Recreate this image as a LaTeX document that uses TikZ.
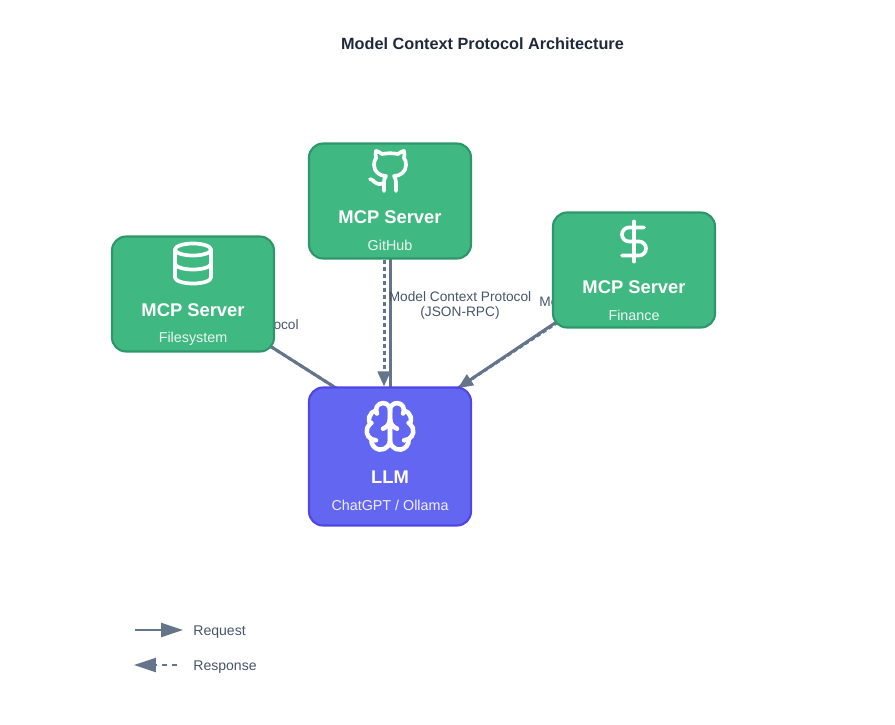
\documentclass[tikz,border=0pt]{standalone}
\usepackage{fontspec}
\setmainfont{Liberation Sans}
\usepackage{xcolor}
\usetikzlibrary{positioning, arrows.meta, backgrounds}
\definecolor{servergreen}{RGB}{63,185,129}
\definecolor{serveredge}{RGB}{47,150,107}
\definecolor{llmblue}{RGB}{99,102,241}
\definecolor{llmedge}{RGB}{79,70,229}
\definecolor{slateline}{RGB}{100,116,139}
\definecolor{slatetext}{RGB}{71,85,105}
\definecolor{titletext}{RGB}{30,41,59}

% one half of the brain icon
\newcommand{\brainlobe}{
    \draw (12,5) arc[start angle=0, end angle=-182.4, radius=3]
        arc[start angle=-104.4, end angle=-208.3, radius=4]
        arc[start angle=-129.1, end angle=-240.5, radius=4]
        arc[start angle=187.4, end angle=0, radius=4] -- cycle;
    \draw (12,9) arc[start angle=3.1, end angle=70.6, radius=4.5];
    \draw (6.003,5.125) arc[start angle=177.6, end angle=150, radius=3];
    \draw (3.477,10.896) arc[start angle=-129.1, end angle=-119, radius=4];
    \draw (6,18) arc[start angle=90, end angle=119.5, radius=4];
}

\begin{document}
\begin{tikzpicture}[
    x=0.02cm, y=-0.02cm,
    font=\fontsize{7.8}{9}\selectfont,
    server/.style={
        rectangle,
        draw=serveredge,
        fill=servergreen,
        rounded corners=0.28cm,
        line width=1.2pt,
        minimum width=3.24cm,
        minimum height=2.3cm
    },
    llmbox/.style={server, draw=llmedge, fill=llmblue, minimum height=2.76cm},
    head/.style={text=white, font=\fontsize{10.45}{12}\bfseries\selectfont},
    sub/.style={text=white, opacity=0.9, font=\fontsize{8.15}{9}\selectfont},
    req/.style={-{Triangle[length=0.3cm, width=0.25cm]}, draw=slateline, line width=1.7pt},
    res/.style={req, dash pattern=on 2.4pt off 1.6pt},
    edgelabel/.style={text=slatetext, align=center},
    icon/.style={white, line width=2.1pt, line cap=round, line join=round},
    legendline/.style={draw=slateline, line width=1.4pt},
    legendtext/.style={anchor=west, inner sep=0pt, text=slatetext, font=\fontsize{8}{9}\selectfont}
]

\useasboundingbox (0, 0) rectangle (895, 724);

\def\xfs{193}
\def\xgh{390}
\def\xfin{634}

\node[font=\fontsize{9.25}{11}\bfseries\selectfont, text=titletext] (title) at (482.5, 44) {Model Context Protocol Architecture};

% Boxes
\node[server] (fs)  at (\xfs, 294) {};
\node[server] (gh)  at (\xgh, 201) {};
\node[server] (fin) at (\xfin, 270) {};
\node[llmbox] (llm) at (\xgh, 456.5) {};

% Box texts
\node[head] (fshead)  at (\xfs, 310.5) {MCP Server};
\node[sub]  (fssub)   at (\xfs, 338.5) {Filesystem};
\node[head] (ghhead)  at (\xgh, 217.5) {MCP Server};
\node[sub]  (ghsub)   at (\xgh, 245.5) {GitHub};
\node[head] (finhead) at (\xfin, 287.5) {MCP Server};
\node[sub]  (finsub)  at (\xfin, 315.5) {Finance};
\node[head] (llmhead) at (\xgh, 477.5) {LLM};
\node[sub]  (llmsub)  at (\xgh, 505.5) {ChatGPT / Ollama};

% Icons
\begin{scope}[shift={(169, 239.5)}, scale=2, icon]
    \draw (12,5) ellipse [x radius=9, y radius=3];
    \draw (3,5) -- (3,19) arc[start angle=180, end angle=0, x radius=9, y radius=3] -- (21,5);
    \draw (3,12) arc[start angle=180, end angle=0, x radius=9, y radius=3];
\end{scope}
\begin{scope}[shift={(366, 147)}, scale=2, icon]
    \draw (15,22) -- (15,18) .. controls (15,16.8) and (14.7,15.5) .. (14,14.5)
        .. controls (17,14.5) and (20,12.5) .. (20,9)
        .. controls (20.08,7.75) and (19.73,6.52) .. (19,5.5)
        .. controls (19.28,4.35) and (19.28,3.15) .. (19,2)
        .. controls (19,2) and (18,2) .. (16,3.5)
        .. controls (13.36,3) and (10.64,3) .. (8,3.5)
        .. controls (6,2) and (5,2) .. (5,2)
        .. controls (4.7,3.15) and (4.7,4.35) .. (5,5.5)
        .. controls (4.35,6.45) and (4,7.7) .. (4,9)
        .. controls (4,12.5) and (7,14.5) .. (10,14.5)
        .. controls (9.61,14.99) and (9.32,15.55) .. (9.15,16.15)
        .. controls (8.98,16.75) and (8.93,17.38) .. (9,18) -- (9,22);
    \draw (9,18) .. controls (4.49,20) and (4,16) .. (2,16);
\end{scope}
\begin{scope}[shift={(610, 217.5)}, scale=2, icon]
    \draw (12,2) -- (12,22);
    \draw (17,5) -- (9.5,5) arc[start angle=-90, end angle=-270, radius=3.5]
        -- (14.5,12) arc[start angle=-90, end angle=90, radius=3.5] -- (6,19);
\end{scope}
\begin{scope}[shift={(362, 398.4)}, scale=2.33, icon, line width=2.6pt]
    \brainlobe
\end{scope}
\begin{scope}[shift={(418, 398.4)}, xscale=-2.33, yscale=2.33, icon, line width=2.6pt]
    \brainlobe
\end{scope}

% Connectors and their labels, under the boxes
\begin{scope}[on background layer]
    \coordinate (fsstart) at (\xfs, 297);
    \coordinate (fsend) at (405, 432);
    \coordinate (finend) at (458, 388);
    \draw[req] (llm.center) -- (gh.center);
    \draw[res] ([xshift=-0.12cm]gh.south) -- ([xshift=-0.12cm]llm.north);
    \draw[req] (finend) -- (fin.center);
    \draw[res] ([yshift=-0.04cm]fin.center) -- (finend);
    \draw[res] (fsstart) -- (fsend);
    \draw[req] (fsend) -- (fsstart);
    \node[edgelabel, anchor=east, inner sep=0pt] (fslabel) at (299, 325) {ocol};
    \node[edgelabel] (ghlabel) at (460, 305.5) {Model Context Protocol\\(JSON-RPC)};
    \node[edgelabel, anchor=west, inner sep=0pt] (finlabel) at (539, 302) {Mo};
\end{scope}

% Legend
\coordinate (reqa) at (135, 630);
\coordinate (reqb) at (183, 630);
\coordinate (resa) at (177, 665);
\coordinate (resb) at (134, 665);
\draw[legendline, -{Triangle[length=0.44cm, width=0.28cm]}] (reqa) -- (reqb);
\draw[legendline, dash pattern=on 2.8pt off 2.8pt, -{Triangle[length=0.44cm, width=0.28cm]}] (resa) -- (resb);
\node[legendtext] (reqlabel) at (193, 632.5) {Request};
\node[legendtext] (reslabel) at (193, 667.5) {Response};

\end{tikzpicture}
\end{document}
